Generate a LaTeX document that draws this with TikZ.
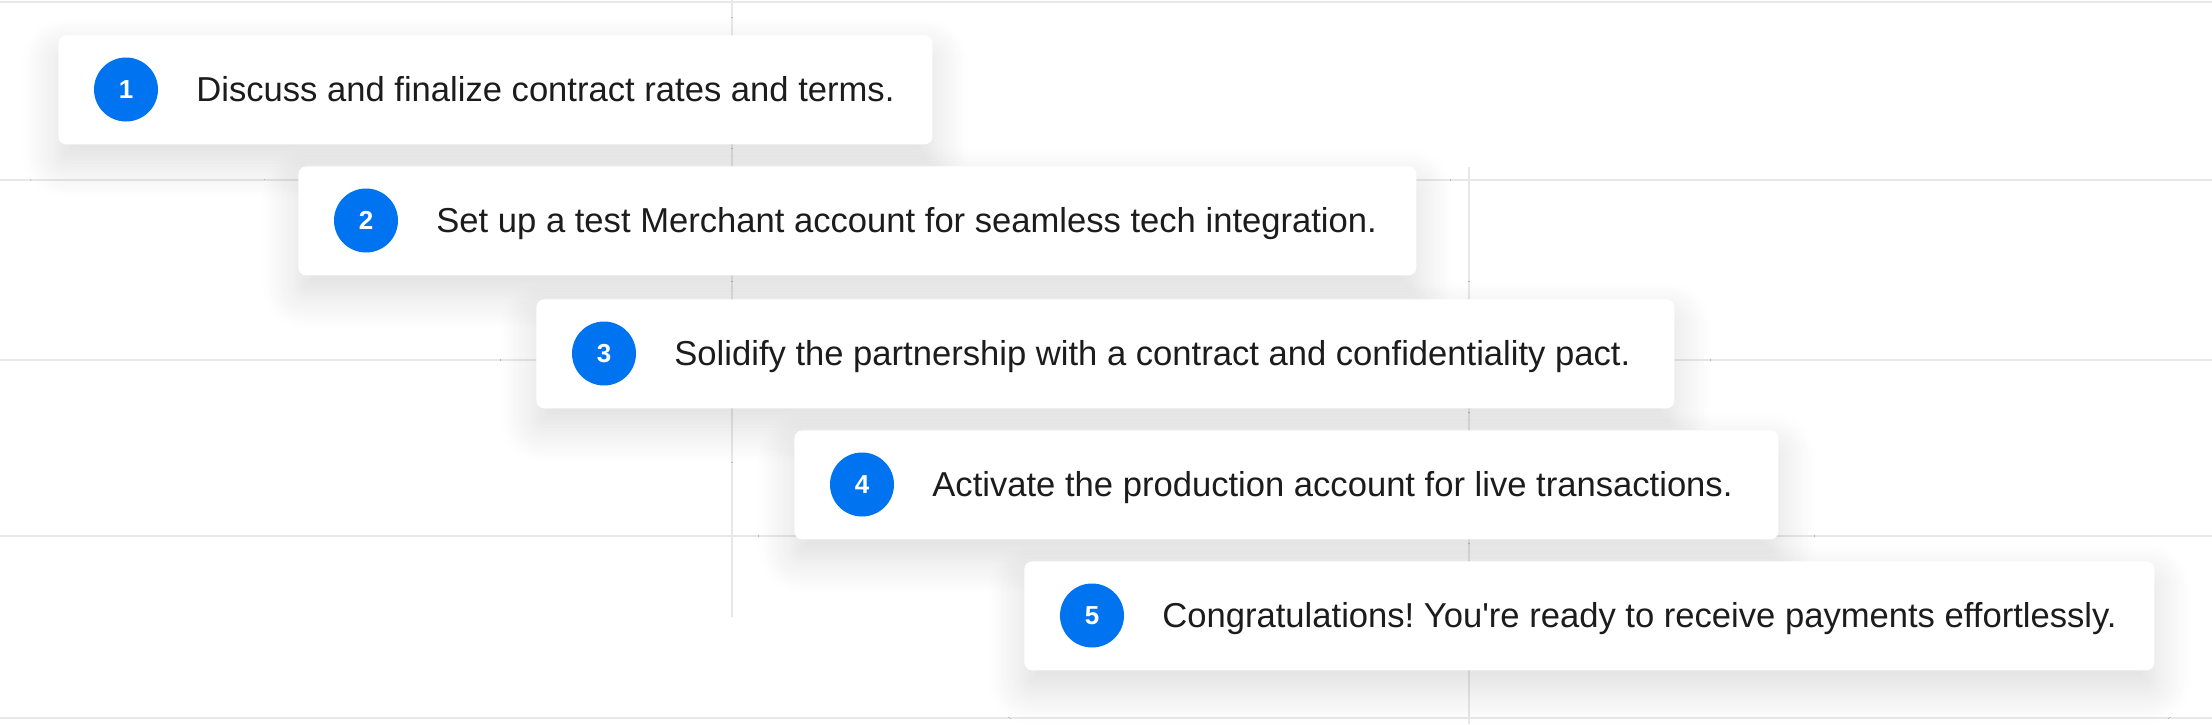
\documentclass[tikz,border=0pt]{standalone}
\usepackage{fontspec}
\setmainfont{Liberation Sans}
\usetikzlibrary{shadows.blur}

\definecolor{stepblue}{RGB}{0,116,240}
\definecolor{gridgray}{RGB}{232,232,232}
\definecolor{txtgray}{RGB}{28,28,28}

\tikzset{
  card/.style={fill=white, rounded corners=4pt, anchor=north west, inner sep=0pt,
    minimum height=54.5pt,
    blur shadow={shadow xshift=0pt, shadow yshift=-9pt, shadow blur radius=18pt,
      shadow blur steps=12, shadow opacity=14}},
  badge/.style={circle, fill=stepblue, minimum size=32pt, inner sep=0pt, text=white,
    font=\fontsize{13}{13}\selectfont\bfseries},
  steptext/.style={anchor=base west, inner sep=0pt, text=txtgray,
    font=\fontsize{17.3}{20}\selectfont},
  gridline/.style={draw=gridgray, line width=1pt}
}

\begin{document}
\frenchspacing
\begin{tikzpicture}[x=0.5pt,y=-0.5pt]
  \useasboundingbox (0,0) rectangle (2212,724);

  % background grid
  \foreach \gy in {1.5,180,360,536,718}
    \draw[gridline] (0,\gy) -- (2212,\gy);
  \draw[gridline] (732,0) -- (732,617);
  \draw[gridline] (1469,167) -- (1469,724);

  % steps
  \foreach \n/\x/\y/\w/\t in {
      1/58/35/437/{Discuss and finalize contract rates and terms.},
      2/298/166/559/{Set up a test Merchant account for seamless tech integration.},
      3/536/299/569/{Solidify the partnership with a contract and confidentiality pact.},
      4/794/430/492/{Activate the production account for live transactions.},
      5/1024/561/565/{Congratulations! You\textquotesingle re ready to receive payments effortlessly.}}
  {
    \node[card, minimum width=\w pt] (card\n) at (\x,\y) {};
    \node[badge] (num\n) at (\x+68,\y+54.5) {\n};
    \node[steptext] (txt\n) at (\x+138,\y+66.5) {\t};
  }
\end{tikzpicture}
\end{document}
